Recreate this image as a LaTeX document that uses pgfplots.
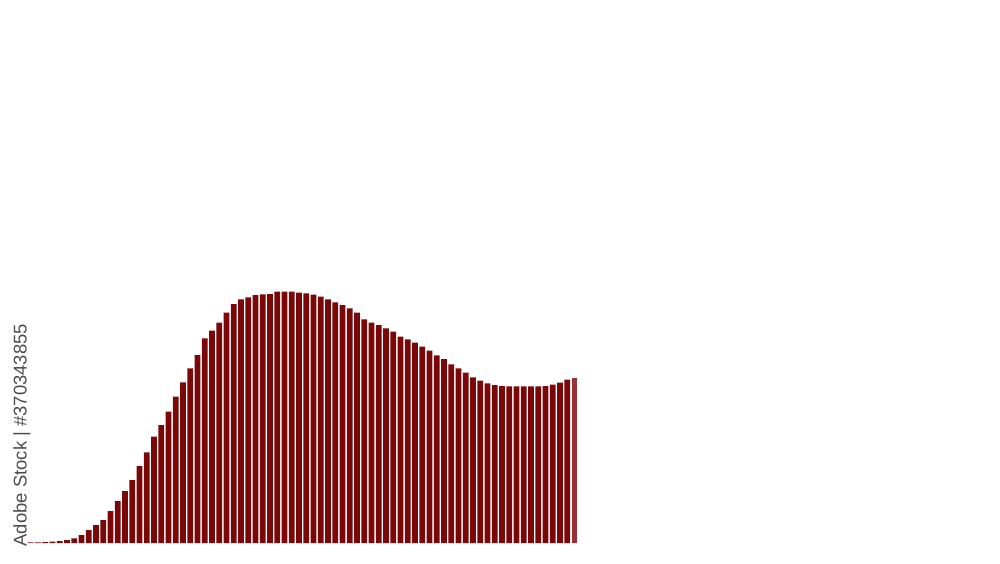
\documentclass[border=0pt]{standalone}
\usepackage{pgfplots}
\pgfplotsset{compat=1.18}
\usepackage{fontspec}
\setmainfont{Liberation Sans}
\definecolor{barred}{RGB}{122,8,8}
\definecolor{fadered}{RGB}{150,50,55}
\begin{document}
\begin{tikzpicture}
\begin{axis}[
    scale only axis,
    width=16cm, height=9.008cm,
    hide axis,
    xmin=-4.241, xmax=133.69,
    ymin=-20, ymax=543,
    ybar, bar width=0.8, bar shift=0pt,
    clip=false,
]
% bar heights, one per column
\addplot[fill=barred, draw=none] coordinates {
(0,0.7) (1,0.7) (2,1) (3,1.3) (4,2) (5,3) (6,4.7) (7,8) (8,13) (9,18)
(10,23) (11,32) (12,42) (13,52) (14,63) (15,77) (16,90.7) (17,106.3) (18,118) (19,131.3)
(20,146.3) (21,160.7) (22,174.7) (23,188) (24,204.7) (25,212.3) (26,220.3) (27,230.3) (28,239) (29,243.7)
(30,245.7) (31,248) (32,248.7) (33,249) (34,251.3) (35,251.3) (36,251.3) (37,250.3) (38,249.7) (39,248.3)
(40,246.3) (41,243.7) (42,240.7) (43,238) (44,234.7) (45,230.3) (46,223.7) (47,220.3) (48,218) (49,214.7)
(50,211.3) (51,206.3) (52,203.7) (53,200.3) (54,196.3) (55,192.3) (56,187.7) (57,184) (58,178.7) (59,174.7)
(60,170.3) (61,165.7) (62,162.3) (63,159.7) (64,158) (65,157) (66,156.7) (67,156.7) (68,156.7) (69,156.7)
(70,156.7) (71,157) (72,158.3) (73,160.3) (74,163.3)
};
\addplot[fill=fadered, draw=none] coordinates {(75,165.3)};
\path (rel axis cs:0,0) rectangle (rel axis cs:1,1);
\node[rotate=90, text=black!70, font=\fontsize{8.4}{9}\selectfont]
    at (rel axis cs:0.022,0.227) {Adobe Stock | \#370343855};
\end{axis}
\end{tikzpicture}
\end{document}
